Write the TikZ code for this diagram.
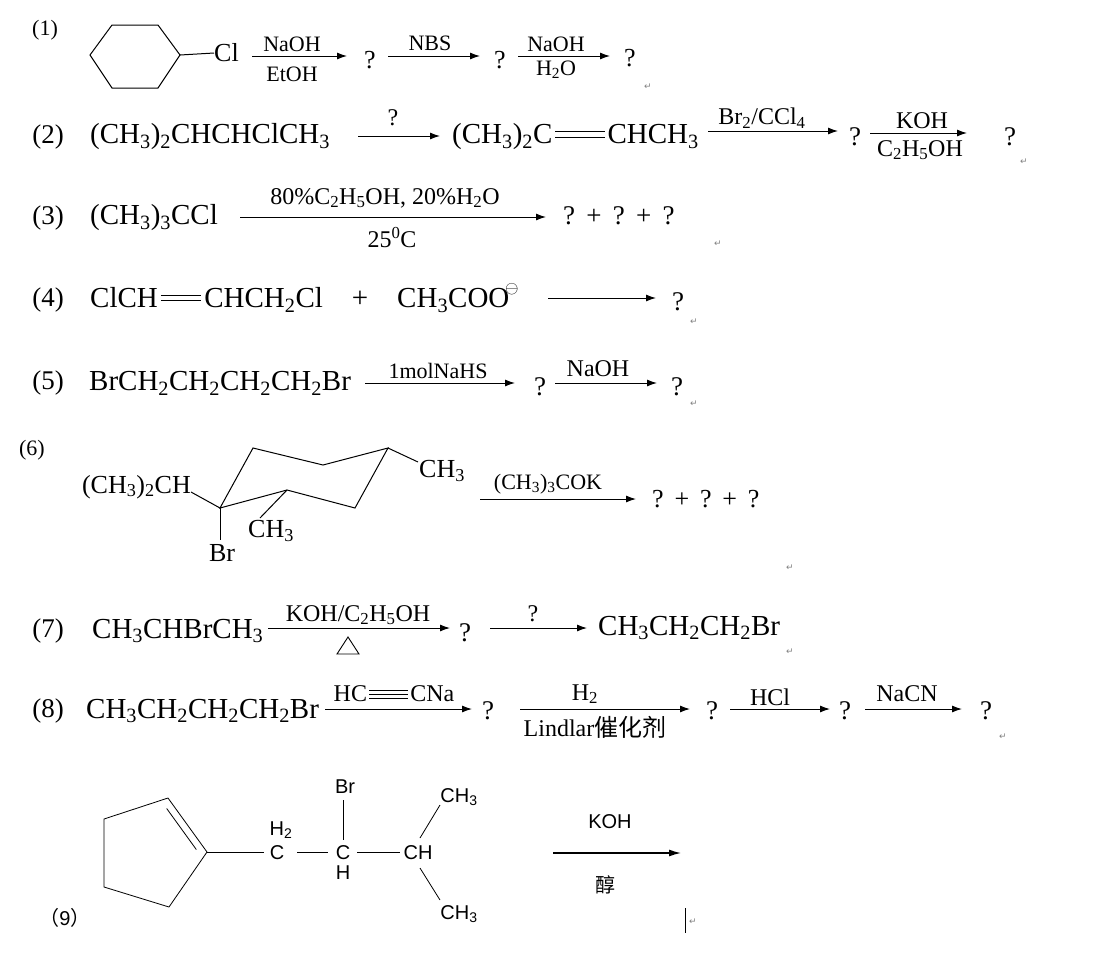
\documentclass[tikz,border=0pt]{standalone}
\usepackage{fontspec}
\setmainfont{Liberation Serif}
\setsansfont{Liberation Sans}
\newfontfamily\cjk{Noto Sans CJK SC}
\newfontfamily\djv{DejaVu Sans}
\usetikzlibrary{arrows.meta,calc}
\newcommand\dn[1]{\textsubscript{#1}}
\newcommand\dbond[1]{\kern0.1em\rlap{\raisebox{0.22em}{\rule{#1}{0.9pt}}}\raisebox{0.42em}{\rule{#1}{0.9pt}}\kern0.1em}
\newcommand\tbond[1]{\kern0.1em\rlap{\raisebox{0.12em}{\rule{#1}{0.8pt}}}\rlap{\raisebox{0.3em}{\rule{#1}{0.8pt}}}\raisebox{0.48em}{\rule{#1}{0.8pt}}\kern0.1em}
\begin{document}
\begin{tikzpicture}[x=1pt,y=-1pt,
  t/.style={inner sep=0pt,anchor=west,font=\fontsize{29}{32}\selectfont},
  tq/.style={inner sep=0pt,font=\fontsize{27}{30}\selectfont},
  ts/.style={inner sep=0pt,font=\fontsize{26}{28}\selectfont},
  l1/.style={inner sep=0pt,font=\fontsize{22}{24}\selectfont},
  lab/.style={inner sep=0pt,font=\fontsize{24}{26}\selectfont},
  rx/.style={-{Latex[length=10pt,width=7pt]},line width=1pt},
  bd/.style={line width=1pt},
  ret/.style={inner sep=0pt,font=\djv\fontsize{9}{10}\selectfont,text=gray}]
\useasboundingbox (0,0) rectangle (1098,970);
% (1)
\node[l1] (n1) at (45,30) {(1)};
\draw[bd] (90,55)--(112,25)--(158,25)--(180,55)--(158,88)--(112,88)--cycle;
\coordinate (h1) at (180,55);
\node[ts,anchor=west] (cl1) at (214,53) {Cl};
\draw[bd] (h1)--(cl1.west);
\draw[rx] (252,56)--(347,56);
\node[l1] at (292,44) {NaOH}; \node[l1] at (292,74) {EtOH};
\node[ts] (q11) at (370,60) {?};
\draw[rx] (388,56)--(480,56); \node[l1] at (430,43) {NBS};
\node[ts] (q12) at (500,60) {?};
\draw[rx] (518,56)--(610,56);
\node[l1] at (556,44) {NaOH}; \node[l1] at (556,70) {H\dn{2}O};
\node[ts] (q13) at (630,58) {?};
\node[ret] at (648,87) {↵};
% (2)
\node[tq] at (48,137) {(2)};
\node[t] (r2) at (90,137) {(CH\dn{3})\dn{2}CHCHClCH\dn{3}};
\draw[rx] (358,136)--(440,136); \node[lab] at (393,118) {?};
\node[t] (p2) at (452,137) {(CH\dn{3})\dn{2}C\dbond{1.7em}CHCH\dn{3}};
\draw[rx] (708,131)--(838,131); \node[lab] at (762,118) {Br\dn{2}/CCl\dn{4}};
\node[tq] (q21) at (855,137) {?};
\draw[rx] (870,133)--(967,133);
\node[lab] at (922,121) {KOH}; \node[lab] at (920,150) {C\dn{2}H\dn{5}OH};
\node[tq] (q22) at (1010,137) {?};
\node[ret] at (1024,162) {↵};
% (3)
\node[tq] at (48,218) {(3)};
\node[t] (r3) at (90,218) {(CH\dn{3})\dn{3}CCl};
\draw[rx] (240,217)--(546,217);
\node[lab] at (385,198) {80\%C\dn{2}H\dn{5}OH, 20\%H\dn{2}O};
\node[lab] at (392,238) {25\textsuperscript{0}C};
\node[tq,anchor=west] (p3) at (563,216) {?\,\ +\ \,?\,\ +\ \,?};
\node[ret] at (718,244) {↵};
% (4)
\node[tq] at (48,300) {(4)};
\node[t] (r4) at (90,298) {ClCH\dbond{1.4em}CHCH\dn{2}Cl\quad+\quad CH\dn{3}COO\rlap{\kern-0.15em\raisebox{0.5em}{\fontsize{16}{16}\selectfont$\ominus$}}};
\draw[rx] (548,298)--(656,298);
\node[tq] (q4) at (678,302) {?};
\node[ret] at (694,322) {↵};
% (5)
\node[tq] at (48,383) {(5)};
\node[t] (r5) at (89,383) {BrCH\dn{2}CH\dn{2}CH\dn{2}CH\dn{2}Br};
\draw[rx] (365,383)--(515,383); \node[l1] at (438,371) {1molNaHS};
\node[tq] (q51) at (540,387) {?};
\draw[rx] (555,383)--(657,383); \node[lab] at (598,369) {NaOH};
\node[tq] (q52) at (677,387) {?};
\node[ret] at (694,404) {↵};
% (6)
\node[l1] (n6) at (32,450) {(6)};
\coordinate (c1) at (220,508); \coordinate (c2) at (253,448); \coordinate (c3) at (323,465);
\coordinate (c4) at (388,448); \coordinate (c5) at (355,508); \coordinate (c6) at (287,490);
\draw[bd] (c1)--(c2)--(c3)--(c4)--(c5)--(c6)--cycle;
\node[ts,anchor=east] (ipr) at (191,487) {(CH\dn{3})\dn{2}CH};
\draw[bd] (191,492)--(c1);
\node[ts,anchor=west] (me1) at (419,471) {CH\dn{3}};
\draw[bd] (c4)--(418,462);
\node[ts,anchor=west] (me2) at (248,531) {CH\dn{3}};
\draw[bd] (c6)--(260,518);
\node[ts] (br6) at (222,553) {Br};
\draw[bd] (c1)--(220,540);
\draw[rx] (480,499)--(636,499); \node[l1] at (548,484) {(CH\dn{3})\dn{3}COK};
\node[ts,anchor=west] (p6) at (652,499) {?\ \,+\ \,?\ \,+\ \,?};
\node[ret] at (790,568) {↵};
% (7)
\node[tq] at (48,631) {(7)};
\node[t] (r7) at (92,631) {CH\dn{3}CHBrCH\dn{3}};
\draw[rx] (268,628)--(450,628); \node[lab] at (358,615) {KOH/C\dn{2}H\dn{5}OH};
\draw[line width=0.9pt] (337,654)--(348,637)--(359,654)--cycle;
\node[tq] (q71) at (465,633) {?};
\draw[rx] (490,628)--(587,628); \node[lab] at (533,614) {?};
\node[t] (p7) at (598,628) {CH\dn{3}CH\dn{2}CH\dn{2}Br};
\node[ret] at (790,652) {↵};
% (8)
\node[tq] at (48,711) {(8)};
\node[t] (r8) at (86,711) {CH\dn{3}CH\dn{2}CH\dn{2}CH\dn{2}Br};
\draw[rx] (325,709)--(472,709); \node[lab] at (394,694) {HC\tbond{1.6em}CNa};
\node[tq] (q81) at (488,711) {?};
\draw[rx] (520,709)--(690,709);
\node[lab] at (585,694) {H\dn{2}}; \node[lab] at (595,727) {Lindlar{\cjk 催化剂}};
\node[tq] (q82) at (712,711) {?};
\draw[rx] (730,709)--(830,709); \node[lab] at (770,697) {HCl};
\node[tq] (q83) at (845,711) {?};
\draw[rx] (865,709)--(962,709); \node[lab] at (907,694) {NaCN};
\node[tq] (q84) at (986,711) {?};
\node[ret] at (1003,737) {↵};
% (9)
\begin{scope}[font=\sffamily\fontsize{20}{22}\selectfont]
\coordinate (e1) at (168,798); \coordinate (e2) at (207,852); \coordinate (e3) at (169,907);
\coordinate (e4) at (104,887); \coordinate (e5) at (104,819);
\draw[line width=0.8pt] (e1)--(e2)--(e3)--(e4)--(e5)--cycle;
\draw[line width=0.8pt] ($(e1)!0.12!(e2)+(-6,4)$)--($(e1)!0.88!(e2)+(-6,4)$);
\node[inner sep=0pt] (ca) at (277,853) {C};
\node[inner sep=0pt] at (281,830) {H\dn{2}};
\draw[line width=0.8pt] (e2)--(264,852);
\draw[line width=0.8pt] (297,852)--(328,852);
\node[inner sep=0pt] (cb) at (343,853) {C};
\node[inner sep=0pt] at (343,873) {H};
\node[inner sep=0pt] at (345,787) {Br};
\draw[line width=0.8pt] (343,800)--(343,840);
\draw[line width=0.8pt] (357,852)--(400,852);
\node[inner sep=0pt] (cc) at (418,853) {CH};
\draw[line width=0.8pt] (420,838)--(440,805);
\draw[line width=0.8pt] (420,868)--(440,900);
\node[inner sep=0pt] at (459,797) {CH\dn{3}};
\node[inner sep=0pt] at (459,914) {CH\dn{3}};
\node[inner sep=0pt] at (610,822) {KOH};
\node[inner sep=0pt] at (605,885) {\cjk 醇};
\node[inner sep=0pt] at (65,918) {{\cjk （}9{\cjk ）}};
\end{scope}
\draw[-{Latex[length=12pt,width=7pt]},line width=1.3pt] (553,853)--(681,853);
\draw[line width=0.6pt] (685,908)--(685,933);
\node[ret] at (693,922) {↵};
\end{tikzpicture}
\end{document}
